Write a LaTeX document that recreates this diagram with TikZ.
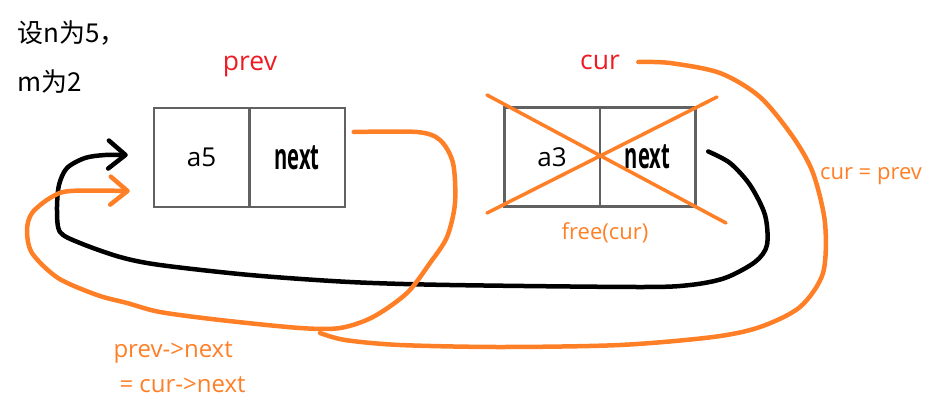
\documentclass[tikz,border=0pt]{standalone}
\usepackage{fontspec}
\usepackage{graphicx}
\setmainfont{Open Sans}
\newfontfamily\cjkfont{Noto Sans CJK SC}
\usetikzlibrary{positioning,arrows.meta}
\definecolor{paintorange}{RGB}{255,127,39}
\definecolor{paintred}{RGB}{237,28,36}
\newcommand{\nxt}{\scalebox{0.56}[1]{\fontsize{36}{36}\selectfont\bfseries next}}

\begin{document}
\begin{tikzpicture}[x=1pt,y=-1pt,
  cell/.style={draw=black!62,line width=2.5pt,fill=white,minimum width=95.5pt,minimum height=99pt,
    outer sep=0pt,inner sep=0pt,font=\fontsize{26}{26}\selectfont},
  stroke/.style={line width=4.5pt,line cap=round,line join=round},
  tip/.style={-{Straight Barb[length=17pt,width=28pt,round]}},
  lbl/.style={text=paintorange,font=\fontsize{22}{22}\selectfont},
  ptr/.style={text=paintred,font=\fontsize{26.5}{26.5}\selectfont}]
\useasboundingbox (0,0) rectangle (939,407);
\node[anchor=west,font=\cjkfont\fontsize{26}{26}\selectfont] (given1) at (14,33) {设n为5，};
\node[anchor=west,font=\cjkfont\fontsize{26}{26}\selectfont] (given2) at (14,82) {m为2};
\node[ptr] (prevlbl) at (250,66) {prev};
\node[ptr] (curlbl) at (600,62) {cur};
\node[cell] (a5) at (201.5,157.5) {a5};
\node[cell,right=0pt of a5] (pnext) {\nxt};
\node[cell] (a3) at (552,157) {a3};
\node[cell,right=0pt of a3] (cnext) {\nxt};
\draw[stroke,paintorange,line width=3.5pt] (487,95) -- (726,223) (487,213) -- (717,97);
\node[lbl] (freelbl) at (605,233) {free(cur)};
\node[lbl] (assignlbl) at (871,176) {cur = prev};
\node[lbl,anchor=west,font=\fontsize{24}{24}\selectfont] (linklbl1) at (110,352) {prev->next};
\node[lbl,anchor=west,font=\fontsize{24}{24}\selectfont] (linklbl2) at (116,385) {= cur->next};
\coordinate (bstart) at ([xshift=13pt,yshift=5.5pt]cnext.east);
\coordinate (btip) at ([xshift=-26pt,yshift=2.5pt]a5.west);
\coordinate (ostart) at ([xshift=9pt,yshift=25.5pt]pnext.east);
\coordinate (otip) at ([xshift=-24pt,yshift=-33.5pt]a5.west);
\coordinate (cstart) at ([xshift=15pt]curlbl.east);
\coordinate (cend) at (320,333);
\draw[stroke,tip,black] plot[smooth,tension=0.5] coordinates {(bstart) (730,163) (750,185) (765,215)
  (767,245) (755,262) (725,278) (690,285) (640,287) (450,285) (350,282) (250,275) (160,265)
  (120,257) (80,243) (60,232) (57,210) (59,185) (67,168) (85,158) (105,155) (btip)};
\draw[stroke,tip,paintorange] plot[smooth,tension=0.5] coordinates {(ostart) (417,132) (440,140)
  (453,163) (455,203) (447,237) (430,263) (407,293) (373,317) (340,328) (300,328) (220,320)
  (160,312) (127,303) (97,295) (58,278) (32,253) (27,230) (32,213) (50,198) (70,191) (otip)};
\draw[stroke,paintorange] plot[smooth,tension=0.5] coordinates {(cstart) (670,63) (720,73) (760,97)
  (793,137) (813,173) (825,223) (823,273) (800,307) (760,327) (713,337) (620,345) (500,347)
  (400,345) (345,340) (cend)};
\end{tikzpicture}
\end{document}
